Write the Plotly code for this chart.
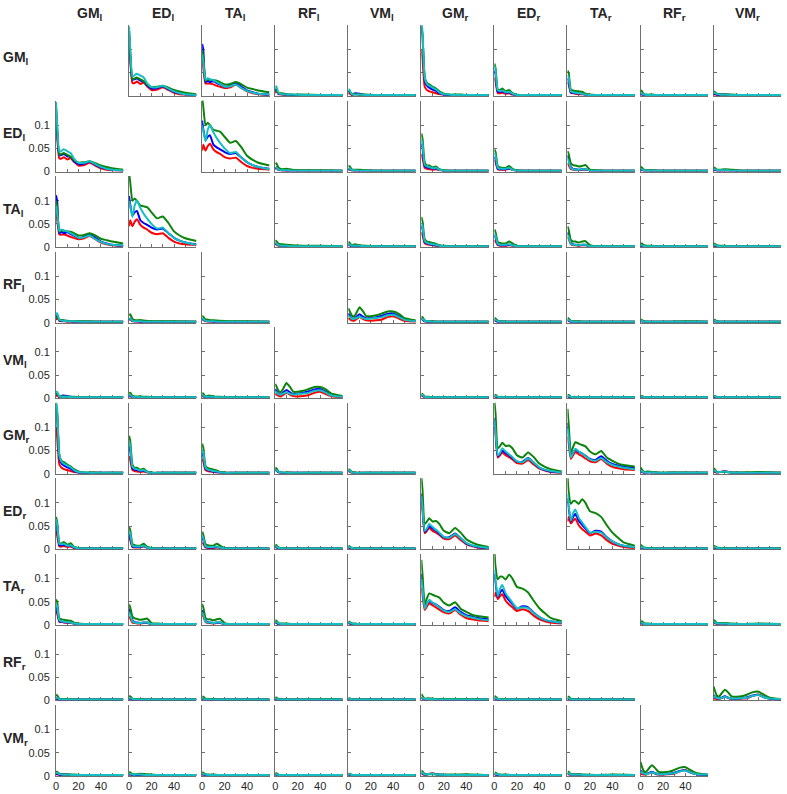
import plotly.graph_objects as go

# ---------------- data ----------------
NAMES = ["GM", "ED", "TA", "RF", "VM", "GM", "ED", "TA", "RF", "VM"]
SIDES = ["l", "l", "l", "l", "l", "r", "r", "r", "r", "r"]

X_FINE = [0, 1, 3, 5, 7, 10, 13, 16, 20, 25, 30, 35, 40, 45, 50, 60]
X_WEAK = [0, 1, 3, 6, 10, 15, 25, 40, 60]

X_TICKS = [0, 20, 40]
X_TICKTEXT = ["0", "20", "40"]
Y_TICKS = [0, 0.05, 0.1]
Y_TICKTEXT = ["0", "0.05", "0.1"]

# ---- strong pairs (X_FINE) ----
GMl_EDl = dict(
    red=[0.125, 0.080, 0.028, 0.028, 0.031, 0.026, 0.029, 0.021, 0.013, 0.014, 0.019, 0.013, 0.007, 0.004, 0.003, 0.002],
    blue=[0.135, 0.090, 0.035, 0.036, 0.038, 0.033, 0.031, 0.023, 0.016, 0.017, 0.021, 0.015, 0.009, 0.006, 0.004, 0.002],
    cyan=[0.150, 0.105, 0.042, 0.045, 0.048, 0.044, 0.040, 0.028, 0.019, 0.019, 0.022, 0.016, 0.010, 0.006, 0.004, 0.002],
    green=[0.140, 0.095, 0.036, 0.038, 0.040, 0.036, 0.032, 0.025, 0.019, 0.020, 0.022, 0.018, 0.013, 0.010, 0.007, 0.004])
GMl_TAl = dict(
    red=[0.080, 0.060, 0.027, 0.027, 0.027, 0.025, 0.022, 0.020, 0.017, 0.019, 0.024, 0.017, 0.010, 0.006, 0.004, 0.002],
    blue=[0.112, 0.100, 0.030, 0.033, 0.030, 0.032, 0.028, 0.025, 0.020, 0.022, 0.028, 0.020, 0.012, 0.008, 0.005, 0.003],
    cyan=[0.090, 0.075, 0.035, 0.038, 0.036, 0.034, 0.030, 0.026, 0.020, 0.021, 0.025, 0.017, 0.011, 0.007, 0.005, 0.003],
    green=[0.100, 0.085, 0.033, 0.036, 0.035, 0.034, 0.033, 0.030, 0.025, 0.026, 0.030, 0.025, 0.018, 0.015, 0.012, 0.008])
EDl_TAl = dict(
    red=[0.045, 0.058, 0.045, 0.055, 0.060, 0.048, 0.042, 0.038, 0.031, 0.028, 0.030, 0.020, 0.012, 0.008, 0.006, 0.004],
    blue=[0.110, 0.092, 0.068, 0.075, 0.078, 0.058, 0.052, 0.048, 0.042, 0.038, 0.040, 0.030, 0.020, 0.014, 0.010, 0.006],
    cyan=[0.100, 0.088, 0.065, 0.090, 0.100, 0.085, 0.072, 0.062, 0.050, 0.040, 0.042, 0.030, 0.020, 0.014, 0.010, 0.005],
    green=[0.160, 0.140, 0.100, 0.105, 0.100, 0.090, 0.088, 0.086, 0.075, 0.062, 0.066, 0.052, 0.034, 0.025, 0.019, 0.013])
RFl_VMl = dict(
    red=[0.010, 0.008, 0.005, 0.004, 0.007, 0.012, 0.008, 0.005, 0.004, 0.005, 0.007, 0.012, 0.014, 0.009, 0.004, 0.002],
    blue=[0.020, 0.016, 0.010, 0.008, 0.012, 0.018, 0.013, 0.009, 0.010, 0.012, 0.015, 0.019, 0.020, 0.014, 0.007, 0.003],
    cyan=[0.015, 0.013, 0.009, 0.008, 0.010, 0.013, 0.010, 0.008, 0.009, 0.010, 0.012, 0.016, 0.017, 0.012, 0.006, 0.003],
    green=[0.031, 0.026, 0.016, 0.013, 0.020, 0.033, 0.025, 0.014, 0.014, 0.016, 0.020, 0.024, 0.024, 0.019, 0.010, 0.005])
GMr_EDr = dict(
    red=[0.100, 0.080, 0.035, 0.040, 0.046, 0.040, 0.036, 0.031, 0.023, 0.022, 0.030, 0.020, 0.011, 0.007, 0.004, 0.002],
    blue=[0.120, 0.095, 0.038, 0.043, 0.050, 0.045, 0.040, 0.034, 0.026, 0.026, 0.034, 0.024, 0.013, 0.008, 0.005, 0.003],
    cyan=[0.115, 0.090, 0.040, 0.045, 0.055, 0.048, 0.042, 0.036, 0.027, 0.025, 0.033, 0.024, 0.014, 0.009, 0.006, 0.003],
    green=[0.156, 0.130, 0.055, 0.060, 0.067, 0.060, 0.061, 0.055, 0.040, 0.035, 0.046, 0.036, 0.022, 0.015, 0.010, 0.005])
GMr_TAr = dict(
    red=[0.080, 0.065, 0.032, 0.040, 0.047, 0.042, 0.038, 0.033, 0.027, 0.025, 0.032, 0.022, 0.015, 0.012, 0.010, 0.008],
    blue=[0.110, 0.085, 0.038, 0.046, 0.052, 0.047, 0.044, 0.039, 0.032, 0.030, 0.038, 0.028, 0.021, 0.018, 0.015, 0.012],
    cyan=[0.100, 0.080, 0.035, 0.045, 0.054, 0.048, 0.044, 0.038, 0.031, 0.028, 0.034, 0.025, 0.019, 0.016, 0.013, 0.010],
    green=[0.140, 0.110, 0.045, 0.058, 0.068, 0.065, 0.062, 0.059, 0.048, 0.042, 0.049, 0.035, 0.028, 0.022, 0.019, 0.016])
EDr_TAr = dict(
    red=[0.060, 0.070, 0.056, 0.062, 0.066, 0.052, 0.044, 0.038, 0.030, 0.034, 0.030, 0.020, 0.012, 0.008, 0.005, 0.003],
    blue=[0.110, 0.090, 0.060, 0.070, 0.076, 0.062, 0.053, 0.045, 0.035, 0.040, 0.038, 0.026, 0.017, 0.011, 0.008, 0.005],
    cyan=[0.120, 0.095, 0.062, 0.078, 0.086, 0.068, 0.058, 0.048, 0.036, 0.038, 0.036, 0.025, 0.017, 0.011, 0.008, 0.005],
    green=[0.160, 0.125, 0.098, 0.104, 0.104, 0.098, 0.108, 0.100, 0.082, 0.078, 0.070, 0.052, 0.036, 0.025, 0.015, 0.008])
RFr_VMr = dict(
    red=[0.004, 0.004, 0.003, 0.003, 0.005, 0.008, 0.005, 0.003, 0.003, 0.004, 0.005, 0.010, 0.013, 0.007, 0.004, 0.002],
    blue=[0.012, 0.009, 0.005, 0.004, 0.006, 0.009, 0.006, 0.004, 0.004, 0.005, 0.007, 0.011, 0.012, 0.007, 0.004, 0.002],
    cyan=[0.010, 0.008, 0.005, 0.004, 0.005, 0.008, 0.006, 0.004, 0.004, 0.005, 0.006, 0.010, 0.012, 0.007, 0.004, 0.003],
    green=[0.030, 0.022, 0.010, 0.009, 0.015, 0.023, 0.017, 0.009, 0.008, 0.009, 0.013, 0.018, 0.019, 0.012, 0.006, 0.003])

# ---- medium pairs (X_FINE) ----
GMl_GMr = dict(
    red=[0.100, 0.080, 0.020, 0.013, 0.010, 0.008, 0.006, 0.004, 0.003, 0.002, 0.002, 0.002, 0.002, 0.002, 0.002, 0.002],
    blue=[0.150, 0.130, 0.035, 0.022, 0.018, 0.014, 0.011, 0.006, 0.003, 0.002, 0.002, 0.002, 0.002, 0.002, 0.002, 0.002],
    cyan=[0.156, 0.140, 0.040, 0.026, 0.022, 0.018, 0.014, 0.008, 0.004, 0.003, 0.002, 0.002, 0.002, 0.002, 0.002, 0.002],
    green=[0.150, 0.130, 0.040, 0.028, 0.025, 0.020, 0.016, 0.010, 0.005, 0.003, 0.003, 0.003, 0.002, 0.002, 0.002, 0.002])
GMl_EDr = dict(
    red=[0.040, 0.030, 0.006, 0.006, 0.007, 0.005, 0.006, 0.003, 0.002, 0.002, 0.002, 0.002, 0.002, 0.002, 0.002, 0.002],
    blue=[0.055, 0.045, 0.009, 0.009, 0.010, 0.007, 0.008, 0.004, 0.002, 0.002, 0.002, 0.002, 0.002, 0.002, 0.002, 0.002],
    cyan=[0.065, 0.055, 0.012, 0.011, 0.012, 0.008, 0.009, 0.005, 0.002, 0.002, 0.002, 0.002, 0.002, 0.002, 0.002, 0.002],
    green=[0.070, 0.060, 0.014, 0.013, 0.016, 0.010, 0.013, 0.006, 0.003, 0.002, 0.002, 0.002, 0.002, 0.002, 0.002, 0.002])
GMl_TAr = dict(
    red=[0.030, 0.025, 0.007, 0.006, 0.005, 0.004, 0.004, 0.003, 0.002, 0.002, 0.002, 0.002, 0.002, 0.002, 0.002, 0.002],
    blue=[0.038, 0.032, 0.008, 0.007, 0.006, 0.006, 0.005, 0.003, 0.002, 0.002, 0.002, 0.002, 0.002, 0.002, 0.002, 0.002],
    cyan=[0.045, 0.040, 0.010, 0.008, 0.007, 0.006, 0.005, 0.003, 0.002, 0.002, 0.002, 0.002, 0.002, 0.002, 0.002, 0.002],
    green=[0.055, 0.050, 0.014, 0.012, 0.011, 0.010, 0.009, 0.005, 0.003, 0.002, 0.002, 0.002, 0.002, 0.002, 0.002, 0.002])
EDl_GMr = dict(
    red=[0.038, 0.030, 0.008, 0.006, 0.005, 0.004, 0.005, 0.003, 0.002, 0.002, 0.002, 0.002, 0.002, 0.002, 0.002, 0.002],
    blue=[0.060, 0.050, 0.012, 0.009, 0.008, 0.006, 0.007, 0.004, 0.002, 0.002, 0.002, 0.002, 0.002, 0.002, 0.002, 0.002],
    cyan=[0.070, 0.060, 0.015, 0.011, 0.010, 0.007, 0.008, 0.004, 0.002, 0.002, 0.002, 0.002, 0.002, 0.002, 0.002, 0.002],
    green=[0.082, 0.072, 0.020, 0.013, 0.013, 0.009, 0.011, 0.005, 0.003, 0.002, 0.002, 0.002, 0.002, 0.002, 0.002, 0.002])
EDl_EDr = dict(
    red=[0.025, 0.020, 0.005, 0.004, 0.004, 0.004, 0.006, 0.004, 0.002, 0.002, 0.002, 0.002, 0.002, 0.002, 0.002, 0.002],
    blue=[0.032, 0.026, 0.006, 0.005, 0.005, 0.005, 0.007, 0.004, 0.002, 0.002, 0.002, 0.002, 0.002, 0.002, 0.002, 0.002],
    cyan=[0.040, 0.034, 0.008, 0.006, 0.006, 0.006, 0.008, 0.004, 0.002, 0.002, 0.002, 0.002, 0.002, 0.002, 0.002, 0.002],
    green=[0.048, 0.042, 0.012, 0.009, 0.008, 0.008, 0.012, 0.006, 0.003, 0.002, 0.002, 0.002, 0.002, 0.002, 0.002, 0.002])
EDl_TAr = dict(
    red=[0.018, 0.014, 0.005, 0.004, 0.003, 0.003, 0.004, 0.004, 0.002, 0.002, 0.002, 0.002, 0.002, 0.002, 0.002, 0.002],
    blue=[0.035, 0.028, 0.010, 0.006, 0.005, 0.004, 0.005, 0.005, 0.002, 0.002, 0.002, 0.002, 0.002, 0.002, 0.002, 0.002],
    cyan=[0.028, 0.022, 0.008, 0.005, 0.004, 0.004, 0.005, 0.005, 0.002, 0.002, 0.002, 0.002, 0.002, 0.002, 0.002, 0.002],
    green=[0.044, 0.038, 0.018, 0.014, 0.013, 0.011, 0.012, 0.014, 0.004, 0.003, 0.002, 0.002, 0.002, 0.002, 0.002, 0.002])
TAl_GMr = dict(
    red=[0.032, 0.026, 0.008, 0.006, 0.005, 0.004, 0.003, 0.002, 0.002, 0.002, 0.002, 0.002, 0.002, 0.002, 0.002, 0.002],
    blue=[0.045, 0.038, 0.011, 0.008, 0.007, 0.005, 0.004, 0.003, 0.002, 0.002, 0.002, 0.002, 0.002, 0.002, 0.002, 0.002],
    cyan=[0.052, 0.045, 0.013, 0.009, 0.008, 0.006, 0.005, 0.003, 0.002, 0.002, 0.002, 0.002, 0.002, 0.002, 0.002, 0.002],
    green=[0.065, 0.056, 0.017, 0.012, 0.011, 0.009, 0.007, 0.004, 0.003, 0.002, 0.002, 0.002, 0.002, 0.002, 0.002, 0.002])
TAl_EDr = dict(
    red=[0.015, 0.012, 0.004, 0.003, 0.003, 0.003, 0.004, 0.003, 0.002, 0.002, 0.002, 0.002, 0.002, 0.002, 0.002, 0.002],
    blue=[0.025, 0.020, 0.006, 0.004, 0.004, 0.004, 0.005, 0.004, 0.002, 0.002, 0.002, 0.002, 0.002, 0.002, 0.002, 0.002],
    cyan=[0.030, 0.024, 0.007, 0.005, 0.005, 0.005, 0.006, 0.004, 0.002, 0.002, 0.002, 0.002, 0.002, 0.002, 0.002, 0.002],
    green=[0.038, 0.032, 0.011, 0.009, 0.008, 0.008, 0.012, 0.008, 0.003, 0.002, 0.002, 0.002, 0.002, 0.002, 0.002, 0.002])
TAl_TAr = dict(
    red=[0.022, 0.018, 0.006, 0.004, 0.004, 0.003, 0.004, 0.004, 0.002, 0.002, 0.002, 0.002, 0.002, 0.002, 0.002, 0.002],
    blue=[0.032, 0.026, 0.009, 0.006, 0.005, 0.004, 0.005, 0.005, 0.002, 0.002, 0.002, 0.002, 0.002, 0.002, 0.002, 0.002],
    cyan=[0.027, 0.022, 0.007, 0.005, 0.005, 0.004, 0.005, 0.005, 0.002, 0.002, 0.002, 0.002, 0.002, 0.002, 0.002, 0.002],
    green=[0.045, 0.038, 0.015, 0.012, 0.012, 0.010, 0.012, 0.013, 0.004, 0.002, 0.002, 0.002, 0.002, 0.002, 0.002, 0.002])

# ---- weak pairs (X_WEAK) ----
GMl_RFl = dict(red=[0.006, 0.012, 0.004, 0.003, 0.002, 0.002, 0.002, 0.002, 0.002],
               blue=[0.010, 0.015, 0.005, 0.004, 0.003, 0.002, 0.002, 0.002, 0.002],
               cyan=[0.016, 0.021, 0.006, 0.004, 0.003, 0.003, 0.002, 0.002, 0.002],
               green=[0.010, 0.012, 0.006, 0.006, 0.004, 0.003, 0.003, 0.002, 0.002])
GMl_VMl = dict(red=[0.004, 0.006, 0.002, 0.004, 0.003, 0.002, 0.002, 0.002, 0.002],
               blue=[0.008, 0.010, 0.003, 0.006, 0.005, 0.002, 0.002, 0.002, 0.002],
               cyan=[0.013, 0.014, 0.004, 0.003, 0.003, 0.002, 0.002, 0.002, 0.002],
               green=[0.009, 0.010, 0.004, 0.004, 0.003, 0.003, 0.002, 0.002, 0.002])
GMl_RFr = dict(red=[0.003, 0.004, 0.002, 0.002, 0.002, 0.002, 0.002, 0.002, 0.002],
               blue=[0.004, 0.004, 0.002, 0.002, 0.002, 0.002, 0.002, 0.002, 0.002],
               cyan=[0.005, 0.006, 0.003, 0.002, 0.002, 0.002, 0.002, 0.002, 0.002],
               green=[0.012, 0.011, 0.004, 0.003, 0.003, 0.002, 0.002, 0.002, 0.002])
GMl_VMr = dict(red=[0.003, 0.004, 0.002, 0.003, 0.004, 0.002, 0.002, 0.002, 0.002],
               blue=[0.004, 0.005, 0.003, 0.003, 0.003, 0.002, 0.002, 0.002, 0.002],
               cyan=[0.006, 0.007, 0.004, 0.003, 0.003, 0.002, 0.002, 0.002, 0.002],
               green=[0.009, 0.009, 0.005, 0.004, 0.003, 0.003, 0.002, 0.002, 0.002])
EDl_RFl = dict(red=[0.005, 0.009, 0.003, 0.002, 0.002, 0.002, 0.002, 0.002, 0.002],
               blue=[0.006, 0.008, 0.004, 0.003, 0.002, 0.002, 0.002, 0.002, 0.002],
               cyan=[0.008, 0.009, 0.004, 0.003, 0.003, 0.002, 0.002, 0.002, 0.002],
               green=[0.016, 0.018, 0.008, 0.005, 0.006, 0.004, 0.003, 0.003, 0.002])
EDl_VMl = dict(red=[0.003, 0.005, 0.002, 0.002, 0.002, 0.002, 0.002, 0.002, 0.002],
               blue=[0.004, 0.005, 0.003, 0.002, 0.002, 0.002, 0.002, 0.002, 0.002],
               cyan=[0.006, 0.007, 0.003, 0.003, 0.002, 0.002, 0.002, 0.002, 0.002],
               green=[0.011, 0.012, 0.005, 0.004, 0.004, 0.003, 0.002, 0.002, 0.002])
EDl_RFr = dict(red=[0.002, 0.003, 0.002, 0.002, 0.002, 0.002, 0.002, 0.002, 0.002],
               blue=[0.003, 0.004, 0.002, 0.002, 0.002, 0.002, 0.002, 0.002, 0.002],
               cyan=[0.004, 0.005, 0.003, 0.002, 0.002, 0.002, 0.002, 0.002, 0.002],
               green=[0.010, 0.009, 0.004, 0.003, 0.003, 0.002, 0.002, 0.002, 0.002])
EDl_VMr = dict(red=[0.002, 0.003, 0.002, 0.002, 0.002, 0.002, 0.002, 0.002, 0.002],
               blue=[0.003, 0.004, 0.002, 0.002, 0.003, 0.002, 0.002, 0.002, 0.002],
               cyan=[0.004, 0.005, 0.003, 0.003, 0.003, 0.002, 0.002, 0.002, 0.002],
               green=[0.009, 0.008, 0.004, 0.004, 0.005, 0.004, 0.002, 0.002, 0.002])
TAl_RFl = dict(red=[0.008, 0.006, 0.003, 0.002, 0.002, 0.002, 0.002, 0.002, 0.002],
               blue=[0.008, 0.007, 0.004, 0.003, 0.002, 0.002, 0.002, 0.002, 0.002],
               cyan=[0.009, 0.008, 0.004, 0.003, 0.003, 0.002, 0.002, 0.002, 0.002],
               green=[0.015, 0.013, 0.007, 0.006, 0.005, 0.004, 0.003, 0.003, 0.002])
TAl_VMl = dict(red=[0.004, 0.004, 0.002, 0.003, 0.002, 0.002, 0.002, 0.002, 0.002],
               blue=[0.005, 0.005, 0.002, 0.003, 0.003, 0.002, 0.002, 0.002, 0.002],
               cyan=[0.006, 0.006, 0.003, 0.003, 0.003, 0.002, 0.002, 0.002, 0.002],
               green=[0.011, 0.010, 0.004, 0.006, 0.004, 0.003, 0.002, 0.002, 0.002])
TAl_RFr = dict(red=[0.002, 0.003, 0.002, 0.002, 0.002, 0.002, 0.002, 0.002, 0.002],
               blue=[0.003, 0.003, 0.002, 0.002, 0.002, 0.002, 0.002, 0.002, 0.002],
               cyan=[0.004, 0.004, 0.002, 0.002, 0.002, 0.002, 0.002, 0.002, 0.002],
               green=[0.008, 0.008, 0.004, 0.003, 0.003, 0.002, 0.002, 0.002, 0.002])
TAl_VMr = dict(red=[0.002, 0.003, 0.002, 0.002, 0.002, 0.002, 0.002, 0.002, 0.002],
               blue=[0.003, 0.004, 0.002, 0.002, 0.002, 0.002, 0.002, 0.002, 0.002],
               cyan=[0.004, 0.005, 0.003, 0.002, 0.002, 0.002, 0.002, 0.002, 0.002],
               green=[0.008, 0.007, 0.004, 0.003, 0.003, 0.002, 0.002, 0.002, 0.002])
RFl_GMr = dict(red=[0.010, 0.008, 0.003, 0.002, 0.002, 0.002, 0.002, 0.002, 0.002],
               blue=[0.008, 0.007, 0.003, 0.002, 0.002, 0.002, 0.002, 0.002, 0.002],
               cyan=[0.008, 0.008, 0.004, 0.003, 0.002, 0.002, 0.002, 0.002, 0.002],
               green=[0.013, 0.012, 0.005, 0.003, 0.003, 0.002, 0.002, 0.002, 0.002])
RFl_EDr = dict(red=[0.004, 0.004, 0.002, 0.002, 0.002, 0.002, 0.002, 0.002, 0.002],
               blue=[0.005, 0.005, 0.002, 0.002, 0.002, 0.002, 0.002, 0.002, 0.002],
               cyan=[0.006, 0.006, 0.003, 0.002, 0.002, 0.002, 0.002, 0.002, 0.002],
               green=[0.010, 0.009, 0.004, 0.003, 0.002, 0.002, 0.002, 0.002, 0.002])
RFl_TAr = dict(red=[0.004, 0.004, 0.002, 0.002, 0.002, 0.002, 0.002, 0.002, 0.002],
               blue=[0.005, 0.005, 0.002, 0.002, 0.002, 0.002, 0.002, 0.002, 0.002],
               cyan=[0.006, 0.006, 0.003, 0.002, 0.002, 0.002, 0.002, 0.002, 0.002],
               green=[0.010, 0.009, 0.004, 0.003, 0.003, 0.002, 0.002, 0.002, 0.002])
RFl_RFr = dict(red=[0.003, 0.003, 0.002, 0.002, 0.002, 0.002, 0.002, 0.002, 0.002],
               blue=[0.003, 0.003, 0.002, 0.002, 0.002, 0.002, 0.002, 0.002, 0.002],
               cyan=[0.004, 0.004, 0.002, 0.002, 0.002, 0.002, 0.002, 0.002, 0.002],
               green=[0.007, 0.006, 0.003, 0.002, 0.002, 0.002, 0.002, 0.003, 0.002])
RFl_VMr = dict(red=[0.002, 0.003, 0.002, 0.002, 0.002, 0.002, 0.002, 0.002, 0.002],
               blue=[0.003, 0.003, 0.002, 0.002, 0.002, 0.002, 0.002, 0.002, 0.002],
               cyan=[0.004, 0.004, 0.002, 0.002, 0.002, 0.002, 0.002, 0.002, 0.002],
               green=[0.006, 0.006, 0.003, 0.002, 0.002, 0.002, 0.002, 0.002, 0.002])
VMl_GMr = dict(red=[0.005, 0.005, 0.002, 0.002, 0.002, 0.002, 0.002, 0.002, 0.002],
               blue=[0.006, 0.006, 0.003, 0.002, 0.002, 0.002, 0.002, 0.002, 0.002],
               cyan=[0.007, 0.007, 0.003, 0.002, 0.002, 0.002, 0.002, 0.002, 0.002],
               green=[0.010, 0.009, 0.004, 0.003, 0.002, 0.002, 0.002, 0.002, 0.002])
VMl_EDr = dict(red=[0.003, 0.003, 0.002, 0.002, 0.002, 0.002, 0.002, 0.002, 0.002],
               blue=[0.004, 0.004, 0.002, 0.002, 0.002, 0.002, 0.002, 0.002, 0.002],
               cyan=[0.005, 0.005, 0.003, 0.002, 0.002, 0.002, 0.002, 0.002, 0.002],
               green=[0.007, 0.007, 0.003, 0.003, 0.002, 0.002, 0.002, 0.002, 0.002])
VMl_TAr = dict(red=[0.003, 0.003, 0.002, 0.002, 0.002, 0.002, 0.002, 0.002, 0.002],
               blue=[0.004, 0.004, 0.002, 0.002, 0.002, 0.002, 0.002, 0.002, 0.002],
               cyan=[0.005, 0.005, 0.003, 0.002, 0.002, 0.002, 0.002, 0.002, 0.002],
               green=[0.007, 0.007, 0.003, 0.003, 0.002, 0.002, 0.002, 0.002, 0.002])
VMl_RFr = dict(red=[0.002, 0.002, 0.002, 0.002, 0.002, 0.002, 0.002, 0.002, 0.002],
               blue=[0.003, 0.003, 0.002, 0.002, 0.002, 0.002, 0.002, 0.002, 0.002],
               cyan=[0.003, 0.004, 0.002, 0.002, 0.002, 0.002, 0.002, 0.002, 0.002],
               green=[0.005, 0.005, 0.003, 0.002, 0.002, 0.002, 0.002, 0.002, 0.002])
VMl_VMr = dict(red=[0.002, 0.002, 0.002, 0.002, 0.002, 0.002, 0.002, 0.002, 0.002],
               blue=[0.003, 0.003, 0.002, 0.002, 0.002, 0.002, 0.002, 0.002, 0.002],
               cyan=[0.004, 0.004, 0.002, 0.002, 0.002, 0.002, 0.002, 0.002, 0.002],
               green=[0.005, 0.005, 0.003, 0.002, 0.002, 0.002, 0.002, 0.002, 0.002])
GMr_RFr = dict(red=[0.004, 0.005, 0.002, 0.003, 0.003, 0.002, 0.002, 0.002, 0.002],
               blue=[0.005, 0.005, 0.002, 0.003, 0.003, 0.002, 0.002, 0.002, 0.002],
               cyan=[0.006, 0.006, 0.003, 0.003, 0.003, 0.002, 0.002, 0.002, 0.002],
               green=[0.014, 0.010, 0.004, 0.005, 0.004, 0.003, 0.003, 0.003, 0.002])
GMr_VMr = dict(red=[0.004, 0.004, 0.002, 0.004, 0.006, 0.003, 0.002, 0.002, 0.002],
               blue=[0.006, 0.006, 0.003, 0.004, 0.005, 0.003, 0.002, 0.002, 0.002],
               cyan=[0.007, 0.007, 0.003, 0.004, 0.005, 0.003, 0.002, 0.002, 0.002],
               green=[0.012, 0.010, 0.004, 0.004, 0.004, 0.003, 0.003, 0.004, 0.002])
EDr_RFr = dict(red=[0.003, 0.004, 0.002, 0.002, 0.002, 0.002, 0.002, 0.002, 0.002],
               blue=[0.004, 0.004, 0.002, 0.002, 0.002, 0.002, 0.002, 0.002, 0.002],
               cyan=[0.005, 0.005, 0.003, 0.002, 0.002, 0.002, 0.002, 0.002, 0.002],
               green=[0.010, 0.008, 0.004, 0.003, 0.003, 0.002, 0.002, 0.002, 0.002])
EDr_VMr = dict(red=[0.002, 0.003, 0.002, 0.002, 0.002, 0.002, 0.002, 0.002, 0.002],
               blue=[0.003, 0.004, 0.002, 0.002, 0.002, 0.002, 0.002, 0.002, 0.002],
               cyan=[0.004, 0.005, 0.003, 0.002, 0.002, 0.002, 0.002, 0.002, 0.002],
               green=[0.007, 0.007, 0.004, 0.003, 0.003, 0.002, 0.002, 0.002, 0.002])
TAr_RFr = dict(red=[0.003, 0.003, 0.002, 0.002, 0.002, 0.002, 0.002, 0.002, 0.002],
               blue=[0.004, 0.004, 0.002, 0.002, 0.002, 0.002, 0.002, 0.002, 0.002],
               cyan=[0.005, 0.005, 0.002, 0.002, 0.002, 0.002, 0.002, 0.002, 0.002],
               green=[0.008, 0.008, 0.004, 0.003, 0.002, 0.002, 0.002, 0.002, 0.002])
TAr_VMr = dict(red=[0.003, 0.004, 0.002, 0.003, 0.003, 0.002, 0.002, 0.002, 0.002],
               blue=[0.004, 0.005, 0.003, 0.003, 0.003, 0.002, 0.002, 0.002, 0.002],
               cyan=[0.005, 0.006, 0.003, 0.003, 0.003, 0.002, 0.002, 0.002, 0.002],
               green=[0.010, 0.009, 0.004, 0.004, 0.004, 0.003, 0.002, 0.003, 0.002])

PAIRS = {
    (0, 1): (X_FINE, GMl_EDl), (0, 2): (X_FINE, GMl_TAl), (0, 3): (X_WEAK, GMl_RFl),
    (0, 4): (X_WEAK, GMl_VMl), (0, 5): (X_FINE, GMl_GMr), (0, 6): (X_FINE, GMl_EDr),
    (0, 7): (X_FINE, GMl_TAr), (0, 8): (X_WEAK, GMl_RFr), (0, 9): (X_WEAK, GMl_VMr),
    (1, 2): (X_FINE, EDl_TAl), (1, 3): (X_WEAK, EDl_RFl), (1, 4): (X_WEAK, EDl_VMl),
    (1, 5): (X_FINE, EDl_GMr), (1, 6): (X_FINE, EDl_EDr), (1, 7): (X_FINE, EDl_TAr),
    (1, 8): (X_WEAK, EDl_RFr), (1, 9): (X_WEAK, EDl_VMr),
    (2, 3): (X_WEAK, TAl_RFl), (2, 4): (X_WEAK, TAl_VMl), (2, 5): (X_FINE, TAl_GMr),
    (2, 6): (X_FINE, TAl_EDr), (2, 7): (X_FINE, TAl_TAr), (2, 8): (X_WEAK, TAl_RFr),
    (2, 9): (X_WEAK, TAl_VMr),
    (3, 4): (X_FINE, RFl_VMl), (3, 5): (X_WEAK, RFl_GMr), (3, 6): (X_WEAK, RFl_EDr),
    (3, 7): (X_WEAK, RFl_TAr), (3, 8): (X_WEAK, RFl_RFr), (3, 9): (X_WEAK, RFl_VMr),
    (4, 5): (X_WEAK, VMl_GMr), (4, 6): (X_WEAK, VMl_EDr), (4, 7): (X_WEAK, VMl_TAr),
    (4, 8): (X_WEAK, VMl_RFr), (4, 9): (X_WEAK, VMl_VMr),
    (5, 6): (X_FINE, GMr_EDr), (5, 7): (X_FINE, GMr_TAr), (5, 8): (X_WEAK, GMr_RFr),
    (5, 9): (X_WEAK, GMr_VMr),
    (6, 7): (X_FINE, EDr_TAr), (6, 8): (X_WEAK, EDr_RFr), (6, 9): (X_WEAK, EDr_VMr),
    (7, 8): (X_WEAK, TAr_RFr), (7, 9): (X_WEAK, TAr_VMr),
    (8, 9): (X_FINE, RFr_VMr),
}

# ---------------- style ----------------
SERIES_ORDER = ["red", "blue", "green", "cyan"]
COLORS = {"red": "#ff0000", "blue": "#0000ff", "green": "#0a840a", "cyan": "#14bfc4"}
AXIS_COLOR = "#707070"
TEXT_COLOR = "#262626"
FONT = "Liberation Sans"

W, H = 787, 794
ML, MR, MT, MB = 56, 6, 25, 18
PW, PH = W - ML - MR, H - MT - MB
COL_PITCH, COL_W = 73.07, 67.4
ROW_PITCH, ROW_H = 75.56, 71.0
X_RANGE = [0, 60]
Y_RANGE = [0, 0.153]

fig = go.Figure()
layout_axes = {}
k = 0
for r in range(10):
    for c in range(10):
        if r == c:
            continue
        k += 1
        sfx = "" if k == 1 else str(k)
        left = ML + c * COL_PITCH
        top = MT + r * ROW_PITCH
        xd = [(left - ML) / PW, min(1.0, (left + COL_W - ML) / PW)]
        yd = [max(0.0, 1 - (top + ROW_H - MT) / PH), 1 - (top - MT) / PH]
        i, j = min(r, c), max(r, c)
        xs, data = PAIRS[(i, j)]
        for s in SERIES_ORDER:
            fig.add_trace(go.Scatter(
                x=xs, y=data[s], mode="lines",
                line=dict(color=COLORS[s], width=2, shape="spline", smoothing=0.5),
                xaxis="x" + sfx, yaxis="y" + sfx, hoverinfo="skip", showlegend=False))
        common = dict(showline=True, linecolor=AXIS_COLOR, linewidth=1, ticks="inside",
                      ticklen=3, tickcolor=AXIS_COLOR, tickwidth=1, showgrid=False,
                      zeroline=False, layer="below traces", fixedrange=True,
                      automargin=False,
                      tickfont=dict(family=FONT, size=11, color=TEXT_COLOR))
        layout_axes["xaxis" + sfx] = dict(
            domain=xd, anchor="y" + sfx, range=X_RANGE, tickmode="array",
            tickvals=X_TICKS, ticktext=X_TICKTEXT, showticklabels=(r == 9),
            minor=dict(dtick=10, tick0=0, ticks="inside", ticklen=3,
                       tickcolor=AXIS_COLOR, showgrid=False),
            **common)
        layout_axes["yaxis" + sfx] = dict(
            domain=yd, anchor="x" + sfx, range=Y_RANGE, tickmode="array",
            tickvals=Y_TICKS, ticktext=Y_TICKTEXT, showticklabels=(c == 0),
            ticklabelstandoff=3, **common)

annotations = []
for idx in range(10):
    label = "<b>%s<sub>%s</sub></b>" % (NAMES[idx], SIDES[idx])
    cx = ML + idx * COL_PITCH + COL_W / 2
    annotations.append(dict(
        text=label, xref="paper", yref="paper", x=(cx - ML) / PW, y=1 - (14 - MT) / PH,
        xanchor="center", yanchor="middle", showarrow=False,
        font=dict(family=FONT, size=14, color=TEXT_COLOR)))
    cy = MT + idx * ROW_PITCH + ROW_H / 2 - 2
    annotations.append(dict(
        text=label, xref="paper", yref="paper", x=(1 - ML) / PW, y=1 - (cy - MT) / PH,
        xanchor="left", yanchor="middle", showarrow=False,
        font=dict(family=FONT, size=14, color=TEXT_COLOR)))

fig.update_layout(
    template="none",
    width=W, height=H, margin=dict(l=ML, r=MR, t=MT, b=MB),
    paper_bgcolor="white", plot_bgcolor="white", showlegend=False,
    hovermode=False, annotations=annotations, **layout_axes)

# the page body has a default 8px margin; remove it so the figure sits at (0, 0)
fig.write_html("out.html",
               config={"displayModeBar": False, "staticPlot": True},
               post_script="document.body.style.margin='0';document.body.style.overflow='hidden';")
